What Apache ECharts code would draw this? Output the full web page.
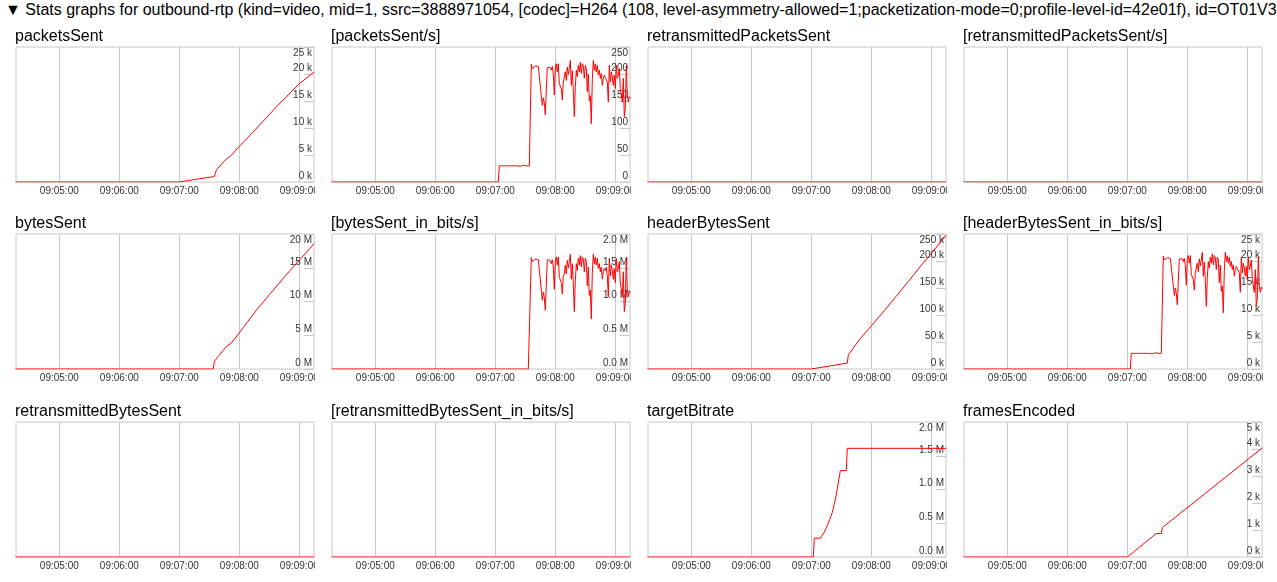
<!DOCTYPE html>
<html><head><meta charset="utf-8">
<script src="https://cdn.jsdelivr.net/npm/echarts@6/dist/echarts.min.js"></script>
<style>
html,body{margin:0;padding:0;background:#fff;width:1277px;height:582px;overflow:hidden;font-family:"Liberation Sans",Arial,sans-serif;}
#hdr{position:absolute;left:5px;top:1px;width:1272px;white-space:nowrap;overflow:hidden;font-size:16px;line-height:18px;color:#000;}
.c{position:absolute;width:301px;height:175px;overflow:hidden;}
</style></head><body>
<div id="hdr">▼ Stats graphs for outbound-rtp (kind=video, mid=1, ssrc=3888971054, [codec]=H264 (108, level-asymmetry-allowed=1;packetization-mode=0;profile-level-id=42e01f), id=OT01V3888971054)</div>
<script>
// ---- time axis (seconds after 09:00:00) ----
const X_MIN = 256.7, X_MAX = 554.7;
const timeTicks = [300, 360, 420, 480, 540];

// ---- flat zero series ----
const zeroTimes = [256, 555];
const zeroValues = [0, 0];

// ---- 1 Hz sampled rate series, samples from 09:07:04 ----
const leadTimes = [256, 423];
const leadValues = [0, 0];
const RATE_START = 424, RATE_COUNT = 132;
const rateTimes = [];
for (let i = 0; i < RATE_COUNT; i++) rateTimes.push(RATE_START + i);

const packetsPerSec = [
  30,30,29,30,30,31,30,30,29,30,31,30,30,30,29,30,30,31,30,30,30,29,30,30,31,30,30,30,30,29,30,30,
  218,210,212,213,215,216,215,214,216,217,
  160,142,156,146,124,170,212,215,214,212,
  207,214,200,161,211,219,204,219,182,185,
  173,152,185,188,204,188,213,199,210,225,
  179,206,170,121,175,207,195,216,204,222,
  201,219,215,192,216,210,167,200,150,160,
  108,190,225,207,219,204,216,198,207,192,
  201,179,192,198,195,201,185,148,216,185,
  204,195,179,198,173,216,192,198,210,173,
  161,148,192,121,136,216,161,148,158,155
];
const bytesBitsPerSecM = [
  0,0,0,0,0,0,0,0,0,0,0.02,0,0,0,0,0,0,0,0.015,0,0,0,0,0,0,0,0,0,0,0,0,0,
  1.65,1.59,1.60,1.61,1.63,1.64,1.63,1.62,1.64,1.64,
  1.17,1.02,1.14,1.06,0.87,1.26,1.60,1.63,1.62,1.60,
  1.56,1.62,1.51,1.18,1.60,1.66,1.54,1.66,1.36,1.38,
  1.28,1.11,1.38,1.41,1.54,1.41,1.61,1.50,1.59,1.70,
  1.33,1.56,1.26,0.85,1.30,1.56,1.46,1.64,1.54,1.68,
  1.51,1.66,1.63,1.44,1.64,1.59,1.23,1.51,1.09,1.17,
  0.74,1.42,1.70,1.56,1.66,1.54,1.64,1.49,1.56,1.44,
  1.51,1.33,1.44,1.49,1.46,1.51,1.38,1.07,1.64,1.38,
  1.54,1.46,1.33,1.49,1.28,1.64,1.44,1.49,1.59,1.28,
  1.18,1.07,1.44,0.85,0.97,1.64,1.18,1.07,1.16,1.13
];
const headerBitsPerSecK = [
  2.9,2.9,2.8,2.9,2.9,3.0,2.9,2.9,2.8,2.9,3.0,2.9,2.9,2.9,2.8,2.9,2.9,3.0,2.9,2.9,2.9,2.8,2.9,2.9,3.0,2.9,2.9,2.9,2.9,2.8,2.9,2.9,
  20.9,20.2,20.4,20.4,20.6,20.7,20.6,20.5,20.7,20.8,
  15.4,13.6,15.0,14.0,11.9,16.3,20.4,20.6,20.5,20.4,
  19.9,20.5,19.2,15.5,20.3,21.0,19.6,21.0,17.5,17.8,
  16.6,14.6,17.8,18.0,19.6,18.0,20.4,19.1,20.2,21.6,
  17.2,19.8,16.3,11.6,16.8,19.9,18.7,20.7,19.6,21.3,
  19.3,21.0,20.6,18.4,20.7,20.2,16.0,19.2,14.4,15.4,
  10.4,18.2,21.6,19.9,21.0,19.6,20.7,19.0,19.9,18.4,
  19.3,17.2,18.4,19.0,18.7,19.3,17.8,14.2,20.7,17.8,
  19.6,18.7,17.2,19.0,16.6,20.7,18.4,19.0,20.2,16.6,
  15.5,14.2,18.4,11.6,13.1,20.7,15.5,14.2,15.2,14.9
];

// ---- cumulative series ----
const packetsSentTimes  = [256, 420, 430, 440, 455, 457, 466, 472, 480, 493, 505, 518, 526, 540, 555];
const packetsSentValues = [0, 0, 300, 600, 1000, 2200, 4100, 4950, 6600, 9100, 11500, 14100, 15600, 18200, 20400];

const bytesSentTimes   = [256, 454, 455, 458, 467, 472, 480, 497, 510, 526, 540, 555];
const bytesSentValuesM = [0, 0, 1.1, 1.7, 3.3, 3.85, 5.35, 8.7, 11.0, 13.8, 16.1, 18.6];

const headerBytesTimes   = [256, 420, 456, 457, 468, 480, 493, 505, 517, 530, 540, 555];
const headerBytesValuesK = [0, 0, 11, 26, 54, 80, 108, 135, 162, 192, 214, 248];

const targetBitrateTimes   = [256, 422, 423, 429, 433, 437, 441, 444, 447, 449, 455, 456, 555];
const targetBitrateValuesM = [0, 0, 0.28, 0.28, 0.37, 0.5, 0.66, 0.85, 1.1, 1.28, 1.28, 1.61, 1.61];

const framesEncodedTimes  = [256, 420, 449, 454, 455, 555];
const framesEncodedValues = [0, 0, 870, 870, 1090, 4040];

// ---- titles ----
const chartTitles = [
  'packetsSent', '[packetsSent/s]', 'retransmittedPacketsSent', '[retransmittedPacketsSent/s]',
  'bytesSent', '[bytesSent_in_bits/s]', 'headerBytesSent', '[headerBytesSent_in_bits/s]',
  'retransmittedBytesSent', '[retransmittedBytesSent_in_bits/s]', 'targetBitrate', 'framesEncoded'
];

function zip(ts, vs) { return ts.map((t, i) => [t, vs[i]]); }
function rateData(vs) { return zip(leadTimes, leadValues).concat(zip(rateTimes, vs)); }

const fmtK = v => (v / 1000) + ' k';
const fmtKu = v => v + ' k';
const fmtM0 = v => v + ' M';
const fmtM1 = v => v.toFixed(1) + ' M';
const fmtPlain = v => String(v);

const specs = [
  { data: zip(packetsSentTimes, packetsSentValues), max: 25000, step: 5000, fmt: fmtK },
  { data: rateData(packetsPerSec), max: 250, step: 50, fmt: fmtPlain },
  { data: zip(zeroTimes, zeroValues), empty: true },
  { data: zip(zeroTimes, zeroValues), empty: true },
  { data: zip(bytesSentTimes, bytesSentValuesM), max: 20, step: 5, fmt: fmtM0 },
  { data: rateData(bytesBitsPerSecM), max: 2, step: 0.5, fmt: fmtM1 },
  { data: zip(headerBytesTimes, headerBytesValuesK), max: 250, step: 50, fmt: fmtKu },
  { data: rateData(headerBitsPerSecK), max: 25, step: 5, fmt: fmtKu },
  { data: zip(zeroTimes, zeroValues), empty: true },
  { data: zip(zeroTimes, zeroValues), empty: true },
  { data: zip(targetBitrateTimes, targetBitrateValuesM), max: 2, step: 0.5, fmt: fmtM1 },
  { data: zip(framesEncodedTimes, framesEncodedValues), max: 5000, step: 1000, fmt: fmtK }
];

const FONT = '"Liberation Sans", Arial, sans-serif';
const rowTops = [29, 216, 404];
const pad2 = n => (n < 10 ? '0' : '') + n;
function timeFmt(v) {
  const s = Math.round(v);
  return '09:' + pad2(Math.floor(s / 60)) + ':' + pad2(s % 60);
}

specs.forEach((sp, idx) => {
  const r = Math.floor(idx / 4), c = idx % 4;
  const div = document.createElement('div');
  div.className = 'c';
  div.style.left = (14 + 316 * c) + 'px';
  div.style.top = rowTops[r] + 'px';
  document.body.appendChild(div);
  const chart = echarts.init(div, null, { renderer: 'canvas' });
  const yAxis = sp.empty ? {
    type: 'value', position: 'right', min: 0, max: 1,
    axisLine: { show: false }, axisTick: { show: false }, axisLabel: { show: false }, splitLine: { show: false }
  } : {
    type: 'value', position: 'right', min: 0, max: sp.max, interval: sp.step,
    axisLine: { show: false },
    axisTick: { show: true, inside: true, length: 10, lineStyle: { color: '#c8c8c8' } },
    axisLabel: {
      inside: true, margin: 2, fontSize: 10, color: '#333', fontFamily: FONT, lineHeight: 12,
      formatter: v => (Math.abs(v - sp.max) < 1e-9 ? '\n' + sp.fmt(v) : sp.fmt(v) + '\n ')
    },
    splitLine: { show: false }
  };
  chart.setOption({
    animation: false,
    title: { text: chartTitles[idx], left: 1, top: 0, padding: 0,
      textStyle: { fontSize: 16, fontWeight: 'normal', color: '#000', fontFamily: FONT } },
    grid: { left: 2, top: 18, width: 298, height: 135, show: true, borderColor: '#c8c8c8', borderWidth: 1,
      containLabel: false, outerBoundsMode: 'none' },
    xAxis: {
      type: 'value', min: X_MIN, max: X_MAX,
      axisLine: { show: false },
      axisTick: { show: false, customValues: timeTicks },
      axisLabel: { customValues: timeTicks, formatter: timeFmt, fontSize: 10, color: '#333', fontFamily: FONT, margin: 4 },
      splitLine: { show: true, lineStyle: { color: '#c8c8c8', width: 1 } }
    },
    yAxis: yAxis,
    series: [{
      type: 'line', data: sp.data, showSymbol: false, silent: true,
      lineStyle: { color: '#ff0000', width: 1 }, itemStyle: { color: '#ff0000' }
    }]
  });
});
</script>
</body></html>
